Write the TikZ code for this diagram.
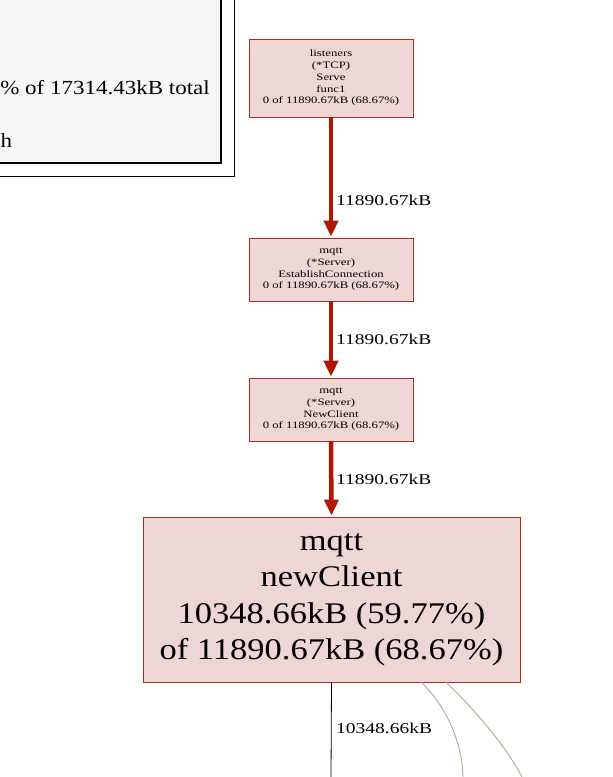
\documentclass[tikz,border=0pt]{standalone}
\usepackage{fontspec}
\setmainfont{Liberation Serif}
\newfontfamily\wideA[FakeStretch=1.3]{Liberation Serif}
\newfontfamily\wideB[FakeStretch=1.15]{Liberation Serif}
\usetikzlibrary{arrows.meta}
\definecolor{nfill}{HTML}{EDD6D5}
\definecolor{nline}{HTML}{B22B1F}
\definecolor{ered}{HTML}{B21600}
\definecolor{etan}{HTML}{B8A88E}
\begin{document}
\begin{tikzpicture}[x=1pt,y=-1pt,
  small/.style={draw=nline,fill=nfill,line width=0.8pt,minimum width=164pt,align=center,font=\wideA\fontsize{9.8}{11.8}\selectfont,inner sep=0pt},
  big/.style={draw=nline,fill=nfill,line width=0.8pt,minimum width=377pt,minimum height=165pt,align=center,font=\wideB\fontsize{30}{36.5}\selectfont,inner sep=0pt},
  hot/.style={ered,line width=4.5pt,-{Triangle[length=16pt,width=14pt]},shorten >=1pt},
  elab/.style={font=\wideA\fontsize{15}{17}\selectfont,anchor=west,inner sep=0pt}]
\useasboundingbox (0,0) rectangle (613,777);
\fill[white] (0,0) rectangle (613,777);
\begin{scope}
\clip (0,0) rectangle (613,777);
\draw[line width=0.8pt] (-20,-20) rectangle (234,176);
\draw[fill=black!3,line width=1.2pt] (-20,-20) rectangle (221,163);
\node[anchor=east,font=\wideB\fontsize{20}{24}\selectfont,inner sep=0pt] (lg1) at (210,88) {\%\ of 17314.43kB total};
\node[anchor=west,font=\wideB\fontsize{20}{24}\selectfont,inner sep=0pt] (lg2) at (-11,143) {ph};
\end{scope}
\node[small,minimum height=78pt] (a) at (331,78) {listeners\\(*TCP)\\Serve\\func1\\0 of 11890.67kB (68.67\%)};
\node[small,minimum height=63pt] (b) at (331,269.5) {mqtt\\(*Server)\\EstablishConnection\\0 of 11890.67kB (68.67\%)};
\node[small,minimum height=63pt] (c) at (331,409.5) {mqtt\\(*Server)\\NewClient\\0 of 11890.67kB (68.67\%)};
\node[big] (d) at (331.5,599.5) {mqtt\\newClient\\10348.66kB (59.77\%)\\of 11890.67kB (68.67\%)};
\draw[hot] (a.south) -- (b.north);
\draw[hot] (b.south) -- (c.north);
\draw[hot] (c.south) -- (d.north);
\node[elab] (l1) at (336,200) {11890.67kB};
\node[elab] (l2) at (336,339) {11890.67kB};
\node[elab] (l3) at (336,479) {11890.67kB};
\coordinate (e1) at (331,777);
\coordinate (e2) at (463,777);
\coordinate (e3) at (522,777);
\draw[line width=0.8pt] (d.south) -- (e1);
\node[elab] (l4) at (336,728) {10348.66kB};
\draw[etan,line width=0.9pt] (421,682) .. controls (445,705) and (462,740) .. (e2);
\draw[etan,line width=0.9pt] (446,682) .. controls (480,715) and (508,750) .. (e3);
\end{tikzpicture}
\end{document}
